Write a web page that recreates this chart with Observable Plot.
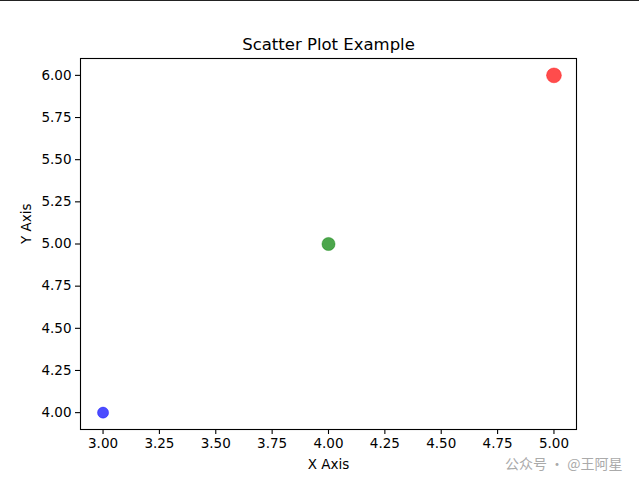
<!DOCTYPE html>
<html>
<head>
<meta charset="utf-8">
<script src="https://cdn.jsdelivr.net/npm/d3@7"></script>
<script src="https://cdn.jsdelivr.net/npm/@observablehq/plot@0.6"></script>
<style>
  html, body { margin: 0; padding: 0; background: #fff; }
  body { width: 639px; height: 480px; overflow: hidden; border-top: 1px solid #222; box-sizing: border-box; }
  #chart svg { display: block; }
</style>
</head>
<body>
<div id="chart"></div>
<script>
const xValues = [3, 4, 5];
const yValues = [4, 5, 6];
const colors = ["blue", "green", "red"];
const sizes = [50, 70, 90]; // marker area in pt^2
const xTicks = [3.00, 3.25, 3.50, 3.75, 4.00, 4.25, 4.50, 4.75, 5.00];
const yTicks = [4.00, 4.25, 4.50, 4.75, 5.00, 5.25, 5.50, 5.75, 6.00];
const titleText = "Scatter Plot Example";
const xLabel = "X Axis";
const yLabel = "Y Axis";
const watermark = "公众号 · @王阿星";

const data = xValues.map((x, i) => ({
  x, y: yValues[i], color: colors[i],
  r: Math.sqrt(sizes[i] / Math.PI) * 100 / 72
}));

const plot = Plot.plot({
  width: 639,
  height: 479,
  marginLeft: 80,
  marginRight: 63,
  marginTop: 57,
  marginBottom: 51,
  style: { fontFamily: "DejaVu Sans", fontSize: "13.5px", color: "#000", background: "#fff" },
  x: { domain: [2.9, 5.1], label: null },
  y: { domain: [3.9, 6.1], label: null },
  r: { type: "identity" },
  marks: [
    Plot.dot(data, { x: "x", y: "y", r: "r", fill: "color", fillOpacity: 0.7, stroke: "color", strokeOpacity: 0.5, strokeWidth: 0.8 }),
    Plot.frame({ stroke: "#000", strokeWidth: 1.1 }),
    Plot.axisX({ ticks: xTicks, tickFormat: d3.format(".2f"), tickSize: 5, tickPadding: 4, stroke: "#000", strokeWidth: 1.1, fontSize: 13.5, fill: "#000", label: null }),
    Plot.axisY({ ticks: yTicks, tickFormat: d3.format(".2f"), tickSize: 5, tickPadding: 4, stroke: "#000", strokeWidth: 1.1, fontSize: 13.5, fill: "#000", label: null }),
    Plot.text([titleText], { frameAnchor: "top", dy: -14, text: d => d, lineAnchor: "middle", fontSize: 16.5, fill: "#000" }),
    Plot.text([xLabel], { frameAnchor: "bottom", dy: 35, text: d => d, lineAnchor: "middle", fontSize: 13.5, fill: "#000" }),
    Plot.text([yLabel], { frameAnchor: "left", dx: -54, text: d => d, rotate: -90, lineAnchor: "middle", fontSize: 13.5, fill: "#000" }),
    Plot.text([watermark], { frameAnchor: "bottom-right", dx: 46, dy: 35, text: d => d, textAnchor: "end", lineAnchor: "middle", fontSize: 14, fill: "#aaa", fontFamily: "Noto Sans CJK SC" })
  ]
});
document.getElementById("chart").appendChild(plot);
</script>
</body>
</html>
